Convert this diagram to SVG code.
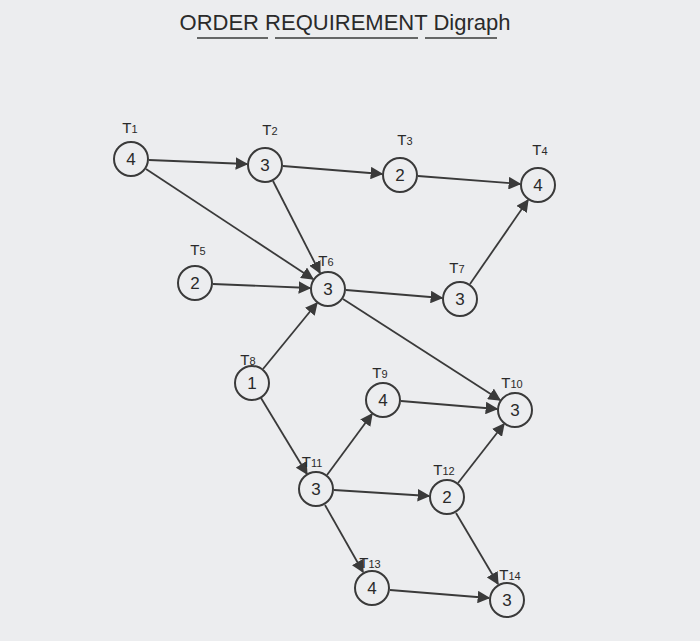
<svg xmlns="http://www.w3.org/2000/svg" width="700" height="641" viewBox="0 0 700 641">
<style>
.n circle{fill:none;stroke:#3a3a3a;stroke-width:2}
.v{font-family:"Liberation Sans",sans-serif;font-size:17px;fill:#2a2a2a;text-anchor:middle}
.l{font-family:"Liberation Sans",sans-serif;font-size:15px;fill:#2a2a2a;text-anchor:middle}
#edges line{stroke:#3a3a3a;stroke-width:1.8;marker-end:url(#a)}
</style>
<defs><marker id="a" viewBox="0 0 10 10" refX="9" refY="5" markerWidth="7" markerHeight="7" orient="auto"><path d="M0,0L10,5L0,10z" fill="#3a3a3a"/></marker></defs>
<rect width="700" height="641" fill="#ecedef"/>
<g id="title"><text x="345" y="30" font-family="Liberation Sans,sans-serif" font-size="22" fill="#2a2a2a" text-anchor="middle">ORDER REQUIREMENT Digraph</text>
<line x1="197" y1="38" x2="268" y2="38" stroke="#3a3a3a" stroke-width="1.5"/><line x1="275" y1="38" x2="418" y2="38" stroke="#3a3a3a" stroke-width="1.5"/><line x1="425" y1="38" x2="497" y2="38" stroke="#3a3a3a" stroke-width="1.5"/></g>
<g id="edges">
<line x1="149" y1="160" x2="247" y2="164"/>
<line x1="283" y1="166" x2="382" y2="174"/>
<line x1="418" y1="176" x2="520" y2="184"/>
<line x1="146" y1="169" x2="313" y2="279"/>
<line x1="273" y1="181" x2="320" y2="273"/>
<line x1="213" y1="284" x2="310" y2="288"/>
<line x1="346" y1="290" x2="442" y2="298"/>
<line x1="470" y1="284" x2="528" y2="200"/>
<line x1="343" y1="299" x2="500" y2="400"/>
<line x1="263" y1="369" x2="317" y2="303"/>
<line x1="261" y1="398" x2="307" y2="474"/>
<line x1="401" y1="401" x2="497" y2="409"/>
<line x1="327" y1="475" x2="372" y2="414"/>
<line x1="334" y1="490" x2="429" y2="496"/>
<line x1="458" y1="483" x2="504" y2="424"/>
<line x1="325" y1="505" x2="363" y2="572"/>
<line x1="456" y1="513" x2="498" y2="584"/>
<line x1="390" y1="590" x2="489" y2="598"/>
</g>
<g id="T1" class="n"><circle cx="131" cy="159" r="17"/><text class="v" x="131" y="165">4</text><text class="l" x="130" y="133">T<tspan font-size="11">1</tspan></text></g>
<g id="T2" class="n"><circle cx="265" cy="165" r="17"/><text class="v" x="265" y="171">3</text><text class="l" x="270" y="135">T<tspan font-size="11">2</tspan></text></g>
<g id="T3" class="n"><circle cx="400" cy="175" r="17"/><text class="v" x="400" y="181">2</text><text class="l" x="405" y="145">T<tspan font-size="11">3</tspan></text></g>
<g id="T4" class="n"><circle cx="538" cy="185" r="17"/><text class="v" x="538" y="191">4</text><text class="l" x="540" y="155">T<tspan font-size="11">4</tspan></text></g>
<g id="T5" class="n"><circle cx="195" cy="283" r="17"/><text class="v" x="195" y="289">2</text><text class="l" x="198" y="255">T<tspan font-size="11">5</tspan></text></g>
<g id="T6" class="n"><circle cx="328" cy="289" r="17"/><text class="v" x="328" y="295">3</text><text class="l" x="326" y="266">T<tspan font-size="11">6</tspan></text></g>
<g id="T7" class="n"><circle cx="460" cy="299" r="17"/><text class="v" x="460" y="305">3</text><text class="l" x="457" y="273">T<tspan font-size="11">7</tspan></text></g>
<g id="T8" class="n"><circle cx="252" cy="383" r="17"/><text class="v" x="252" y="389">1</text><text class="l" x="248" y="365">T<tspan font-size="11">8</tspan></text></g>
<g id="T9" class="n"><circle cx="383" cy="400" r="17"/><text class="v" x="383" y="406">4</text><text class="l" x="380" y="378">T<tspan font-size="11">9</tspan></text></g>
<g id="T10" class="n"><circle cx="515" cy="410" r="17"/><text class="v" x="515" y="416">3</text><text class="l" x="512" y="388">T<tspan font-size="11">10</tspan></text></g>
<g id="T11" class="n"><circle cx="316" cy="489" r="17"/><text class="v" x="316" y="495">3</text><text class="l" x="312" y="467">T<tspan font-size="11">11</tspan></text></g>
<g id="T12" class="n"><circle cx="447" cy="497" r="17"/><text class="v" x="447" y="503">2</text><text class="l" x="444" y="475">T<tspan font-size="11">12</tspan></text></g>
<g id="T13" class="n"><circle cx="372" cy="588" r="17"/><text class="v" x="372" y="594">4</text><text class="l" x="370" y="568">T<tspan font-size="11">13</tspan></text></g>
<g id="T14" class="n"><circle cx="507" cy="600" r="17"/><text class="v" x="507" y="606">3</text><text class="l" x="510" y="580">T<tspan font-size="11">14</tspan></text></g>
</svg>
